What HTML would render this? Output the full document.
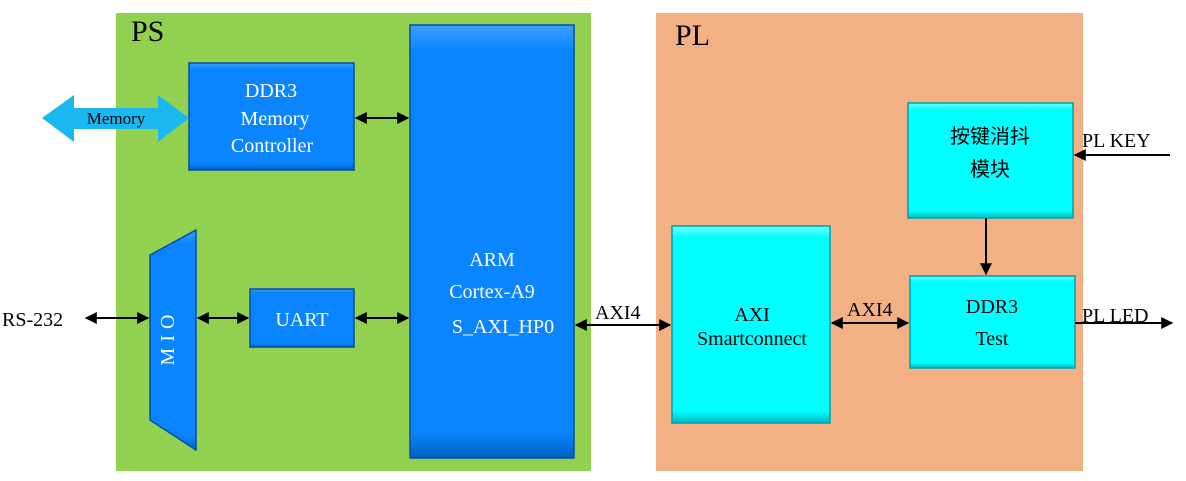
<!DOCTYPE html>
<html><head><meta charset="utf-8"><style>body{margin:0;background:#fff}svg{display:block}</style></head><body>
<svg width="1186" height="481" viewBox="0 0 1186 481" xmlns="http://www.w3.org/2000/svg" font-family="'Liberation Serif','Noto Serif CJK SC',serif">
<defs>
<marker id="a" viewBox="0 0 10 10" refX="9" refY="5" markerWidth="6" markerHeight="6" orient="auto-start-reverse"><path d="M0,0L10,5L0,10z" fill="#000"/></marker>
<linearGradient id="bv" x1="0" y1="0" x2="0" y2="1"><stop offset="0" stop-color="#3aa0ff"/><stop offset="0.06" stop-color="#0a84ff"/><stop offset="0.94" stop-color="#0a84ff"/><stop offset="1" stop-color="#0060c0"/></linearGradient>
<linearGradient id="cv" x1="0" y1="0" x2="0" y2="1"><stop offset="0" stop-color="#70ffff"/><stop offset="0.06" stop-color="#00ffff"/><stop offset="0.94" stop-color="#00ffff"/><stop offset="1" stop-color="#00b8c0"/></linearGradient>
</defs>
<rect x="116" y="13" width="475" height="458" fill="#92d050"/>
<rect x="656" y="13" width="427" height="458" fill="#f2b084"/>
<text x="131" y="41" font-size="30">PS</text>
<text x="675" y="45" font-size="30">PL</text>
<g stroke="#0050a0" stroke-width="1.5">
<rect x="189" y="63" width="165" height="107" fill="url(#bv)"/>
<rect x="410" y="25" width="164" height="433" fill="url(#bv)"/>
<rect x="250" y="289" width="104" height="58" fill="url(#bv)"/>
<path d="M150,255 L196,230 L196,450 L150,420 Z" fill="url(#bv)"/>
</g>
<g stroke="#00a0a8" stroke-width="1.5" fill="url(#cv)">
<rect x="672" y="226" width="158" height="197"/>
<rect x="908" y="103" width="165" height="115"/>
<rect x="910" y="276" width="165" height="92"/>
</g>
<path d="M42,118 L74,95 L74,108 L158,108 L158,95 L189,118 L158,142 L158,129 L74,129 L74,142 Z" fill="#1ab8f0"/>
<text x="116" y="124" font-size="17" text-anchor="middle">Memory</text>
<g fill="#fff" font-size="20" text-anchor="middle">
<text x="271" y="97">DDR3</text><text x="275" y="125">Memory</text><text x="272" y="152">Controller</text>
<text x="492" y="266">ARM</text><text x="492" y="298">Cortex-A9</text>
<text x="503" y="333">S_AXI_HP0</text>
<text x="302" y="326">UART</text>
<text transform="translate(174,337) rotate(-90)" font-size="20" letter-spacing="6">MIO</text>
</g>
<g font-size="20" text-anchor="middle">
<text x="752" y="361" dy="-40">AXI</text><text x="752" y="345">Smartconnect</text>
<text x="990" y="143" font-family="'Noto Sans CJK SC',sans-serif">按键消抖</text>
<text x="990" y="176" font-family="'Noto Sans CJK SC',sans-serif">模块</text>
<text x="992" y="313">DDR3</text><text x="992" y="345">Test</text>
</g>
<g font-size="20">
<text x="2" y="326">RS-232</text>
<text x="595" y="319">AXI4</text>
<text x="847" y="316">AXI4</text>
<text x="1082" y="147">PL KEY</text>
<text x="1082" y="322">PL LED</text>
</g>
<g stroke="#000" stroke-width="2" fill="none">
<line x1="86" y1="318" x2="148" y2="318" marker-start="url(#a)" marker-end="url(#a)"/>
<line x1="198" y1="318" x2="248" y2="318" marker-start="url(#a)" marker-end="url(#a)"/>
<line x1="356" y1="318" x2="408" y2="318" marker-start="url(#a)" marker-end="url(#a)"/>
<line x1="356" y1="118" x2="408" y2="118" marker-start="url(#a)" marker-end="url(#a)"/>
<line x1="576" y1="325" x2="670" y2="325" marker-start="url(#a)" marker-end="url(#a)"/>
<line x1="832" y1="323" x2="908" y2="323" marker-start="url(#a)" marker-end="url(#a)"/>
<line x1="986" y1="218" x2="986" y2="274" marker-end="url(#a)"/>
<line x1="1170" y1="155" x2="1075" y2="155" marker-end="url(#a)"/>
<line x1="1075" y1="323" x2="1172" y2="323" marker-end="url(#a)"/>
</g>
</svg>
</body></html>
